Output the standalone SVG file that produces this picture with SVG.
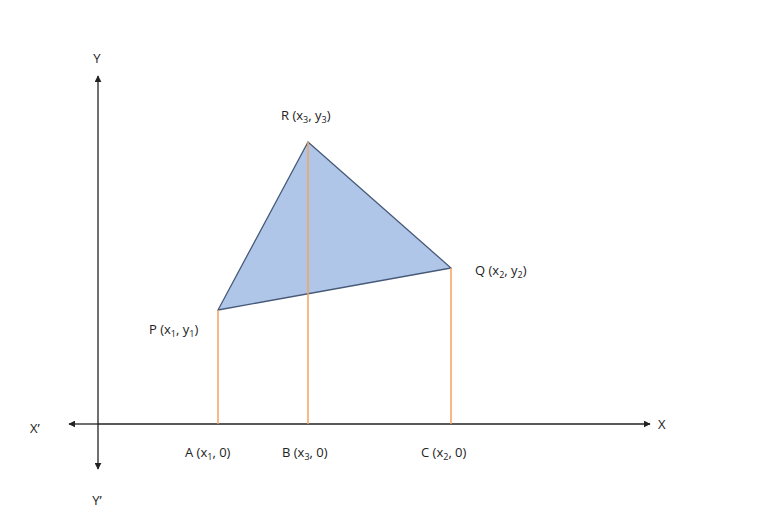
<svg xmlns="http://www.w3.org/2000/svg" width="768" height="527" viewBox="0 0 768 527">
<style>
text{font-family:"Open Sans","Liberation Sans",sans-serif;font-size:13px;fill:#222}
.s{font-size:9px}
.ax{stroke:#222;stroke-width:1.3;fill:none}
.or{stroke:#f4a25e;stroke-width:1.5}
</style>
<defs>
<marker id="ah" viewBox="0 0 10 10" refX="9" refY="5" markerWidth="7" markerHeight="7" markerUnits="userSpaceOnUse" orient="auto"><path d="M0,0L10,5L0,10z" fill="#222"/></marker>
</defs>
<rect width="768" height="527" fill="#fff"/>
<g id="connectors">
<line class="ax" x1="98" y1="424" x2="98" y2="76" marker-end="url(#ah)"/>
<line class="ax" x1="98" y1="424" x2="98" y2="469" marker-end="url(#ah)"/>
<line class="ax" x1="98" y1="424" x2="650" y2="424" marker-end="url(#ah)"/>
<line class="ax" x1="98" y1="424" x2="69" y2="424" marker-end="url(#ah)"/>
</g>
<g id="triangle">
<polygon points="308,142 451,268 218,310" fill="#b0c6e8" stroke="#465a78" stroke-width="1.3"/>
</g>
<g id="projections">
<line class="or" x1="218" y1="310" x2="218" y2="424"/>
<line class="or" x1="308" y1="142" x2="308" y2="424"/>
<line class="or" x1="451" y1="268" x2="451" y2="424"/>
</g>
<g id="labels">
<text x="97" y="63" text-anchor="middle">Y</text>
<text x="97" y="505" text-anchor="middle">Y’</text>
<text x="30" y="433">X’</text>
<text x="658" y="429">X</text>
<text x="281" y="120">R (x<tspan class="s" dy="3">3</tspan><tspan dy="-3">, y</tspan><tspan class="s" dy="3">3</tspan><tspan dy="-3">)</tspan></text>
<text x="475" y="275">Q (x<tspan class="s" dy="3">2</tspan><tspan dy="-3">, y</tspan><tspan class="s" dy="3">2</tspan><tspan dy="-3">)</tspan></text>
<text x="149" y="334">P (x<tspan class="s" dy="3">1</tspan><tspan dy="-3">, y</tspan><tspan class="s" dy="3">1</tspan><tspan dy="-3">)</tspan></text>
<text x="185" y="457">A (x<tspan class="s" dy="3">1</tspan><tspan dy="-3">, 0)</tspan></text>
<text x="282" y="457">B (x<tspan class="s" dy="3">3</tspan><tspan dy="-3">, 0)</tspan></text>
<text x="421" y="457">C (x<tspan class="s" dy="3">2</tspan><tspan dy="-3">, 0)</tspan></text>
</g>
</svg>
